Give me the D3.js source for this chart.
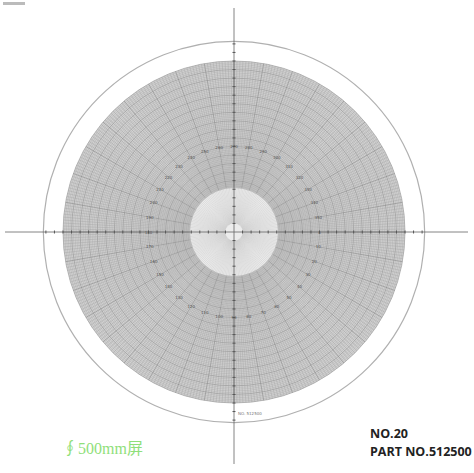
<!DOCTYPE html><html><head><meta charset="utf-8"><script src="https://cdn.jsdelivr.net/npm/d3@7"></script>
<style>body{margin:0;background:#fff}</style></head><body><svg width="474" height="473"></svg>
<script>
const ringValues = d3.range(0, 201, 2);          // grid radius values (mm)
const spokeAngles = d3.range(0, 360, 1);          // degrees
const innerSpokes = d3.range(0, 360, 2);
const angleLabels = d3.range(0, 360, 10);
const axisTicks = d3.range(-220, 221, 10);
const titleLines = ["NO.20", "PART NO.512500"];
const caption = "∮500mm屏";

const svg = d3.select("svg");
const cx = 234, cy = 232;
const r = d3.scaleLinear().domain([0, 200]).range([0, 171]);
const g = svg.append("g").attr("transform", `translate(${cx},${cy})`);
const rad = a => a * Math.PI / 180;

g.append("circle").attr("r", r(223)).attr("fill", "none").attr("stroke", "#b0b0b0").attr("stroke-width", 1.2);
g.append("circle").attr("r", r(200)).attr("fill", "#d2d2d2");
g.append("circle").attr("r", r(52)).attr("fill", "#ececec");

g.selectAll(".ring").data(ringValues.filter(v => v > 52)).join("circle")
  .attr("r", d => r(d)).attr("fill", "none")
  .attr("stroke", d => d % 10 === 0 ? "#8e8e8e" : "#a6a6a6").attr("stroke-width", d => d % 10 === 0 ? 0.6 : 0.4);

g.selectAll(".spoke").data(spokeAngles).join("line")
  .attr("x1", d => r(52) * Math.cos(rad(d))).attr("y1", d => r(52) * Math.sin(rad(d)))
  .attr("x2", d => r(200) * Math.cos(rad(d))).attr("y2", d => r(200) * Math.sin(rad(d)))
  .attr("stroke", d => d % 10 === 0 ? "#8a8a8a" : "#a2a2a2").attr("stroke-width", d => d % 10 === 0 ? 0.6 : 0.4);
g.selectAll(".ispoke").data(innerSpokes).join("line")
  .attr("x1", d => r(10) * Math.cos(rad(d))).attr("y1", d => r(10) * Math.sin(rad(d)))
  .attr("x2", d => r(52) * Math.cos(rad(d))).attr("y2", d => r(52) * Math.sin(rad(d)))
  .attr("stroke", "#c4c4c4").attr("stroke-width", 0.4);
g.append("circle").attr("r", r(10)).attr("fill", "#ececec");
g.append("circle").attr("r", r(52)).attr("fill", "none").attr("stroke", "#aaa").attr("stroke-width", 0.6);

g.selectAll(".lab").data(angleLabels).join("text")
  .attr("x", d => r(100) * Math.cos(rad(d))).attr("y", d => r(100) * Math.sin(rad(d)) + 1.5)
  .attr("text-anchor", "middle").attr("font-size", 4).attr("font-family", "DejaVu Sans").attr("fill", "#555")
  .text(d => d);

g.append("line").attr("x1", -229).attr("x2", 234).attr("stroke", "#666").attr("stroke-width", 0.8);
g.append("line").attr("y1", -224).attr("y2", 232).attr("stroke", "#666").attr("stroke-width", 0.8);
g.selectAll(".tx").data(axisTicks.filter(d => d)).join("line")
  .attr("x1", d => r(d)).attr("x2", d => r(d)).attr("y1", -1.5).attr("y2", 1.5).attr("stroke", "#555").attr("stroke-width", 1);
g.selectAll(".ty").data(axisTicks.filter(d => d)).join("line")
  .attr("y1", d => r(d)).attr("y2", d => r(d)).attr("x1", -1.5).attr("x2", 1.5).attr("stroke", "#555").attr("stroke-width", 1);

g.append("text").attr("x", 4).attr("y", r(212) + 2).attr("font-size", 4).attr("fill", "#777").attr("font-family", "DejaVu Sans").text("NO. 512500");

svg.selectAll(".t").data(titleLines).join("text")
  .attr("x", 370).attr("y", (d, i) => 438 + i * 18)
  .attr("font-family", "Open Sans").attr("font-weight", "bold").attr("font-size", 12.5).attr("fill", "#222").text(d => d);
svg.append("text").attr("x", 62).attr("y", 454).attr("font-family", "Liberation Serif, Noto Sans CJK SC").attr("font-size", 16).attr("fill", "#8fe07a").text(caption);
svg.append("rect").attr("x", 3).attr("y", 2).attr("width", 22).attr("height", 3).attr("fill", "#bbb");
</script></body></html>
